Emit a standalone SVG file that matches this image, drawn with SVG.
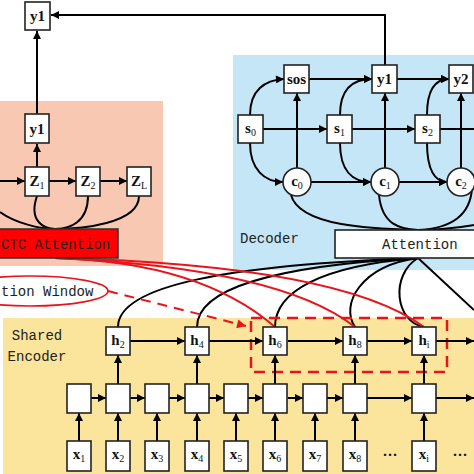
<svg xmlns="http://www.w3.org/2000/svg" width="474" height="474" viewBox="0 0 474 474">
<defs>
<marker id="ah" viewBox="0 0 10 10" refX="10" refY="5" markerWidth="9" markerHeight="8" markerUnits="userSpaceOnUse" orient="auto"><path d="M0,0 L10,5 L0,10 z" fill="#000"/></marker>
<marker id="ahr" viewBox="0 0 10 10" refX="10" refY="5" markerWidth="10" markerHeight="9" markerUnits="userSpaceOnUse" orient="auto"><path d="M0,0 L10,5 L0,10 z" fill="#e8141c"/></marker>
<style>
.bx{fill:#fff;stroke:#222;stroke-width:1.6}
.lb{font-family:"Liberation Serif","DejaVu Serif",serif;font-size:15px;font-weight:bold;fill:#111;text-anchor:middle}
.sb{font-size:10px;font-weight:normal}
.mono{font-family:"Liberation Mono","DejaVu Sans Mono",monospace;font-size:14px;fill:#222}
.ln{fill:none;stroke:#000;stroke-width:2}
.ar{fill:none;stroke:#000;stroke-width:2;marker-end:url(#ah)}
.rd{fill:none;stroke:#e8141c;stroke-width:2}
</style>
</defs>
<rect width="474" height="474" fill="#fff"/>
<!-- regions -->
<rect x="0" y="101" width="163" height="165" fill="#f8c8b2"/>
<rect x="233" y="55" width="241" height="215" fill="#c4e6f6"/>
<rect x="3" y="318" width="471" height="156" fill="#fbe49b"/>

<g id="connectors">
<!-- top -->
<path class="ar" d="M385,65 L385,15 L51,15"/>
<path class="ar" d="M37,114 L37,31"/>
<path class="ar" d="M37,167 L37,144"/>
<path class="ar" d="M0,181 L25,181"/>
<path class="ar" d="M49,181 L76,181"/>
<path class="ar" d="M100,181 L127,181"/>
<path class="ln" d="M37,196 C28,222 45,229 55,229"/>
<path class="ln" d="M88,196 C88,222 70,229 55,229"/>
<path class="ln" d="M139,196 C139,224 80,229 55,229"/>
<path class="ln" d="M0,212 C15,223 40,229 55,229"/>
<!-- decoder -->
<path class="ar" d="M309,79 L372,79"/>
<path class="ar" d="M397,79 L449,79"/>
<path class="ar" d="M263,129 L327,129"/>
<path class="ar" d="M352,129 L415,129"/>
<path class="ln" d="M440,129 L474,129"/>
<path class="ar" d="M311,182 L371,182"/>
<path class="ar" d="M399,182 L447,182"/>
<path class="ar" d="M297,168 L297,93"/>
<path class="ar" d="M385,168 L385,93"/>
<path class="ar" d="M461,168 L461,93"/>
<path class="ar" d="M250,115 C250,90 265,80 284,79"/>
<path class="ar" d="M250,143 C250,170 265,182 283,182"/>
<path class="ar" d="M340,115 C340,90 352,79 372,79"/>
<path class="ar" d="M340,143 C340,170 352,182 371,182"/>
<path class="ar" d="M427,115 C427,90 435,79 449,79"/>
<path class="ar" d="M427,143 C427,170 435,182 447,182"/>
<path class="ln" d="M291,195 C300,228 380,229 418,230"/>
<path class="ln" d="M379,195 C382,225 400,229 418,230"/>
<path class="ln" d="M472,188 C470,222 440,229 418,230"/>
<path class="ln" d="M418,230 C445,230 462,227 474,225"/>
<!-- attention to encoder -->
<path class="ln" d="M118,327 C118,285 230,265 418,258"/>
<path class="ln" d="M197,327 C197,290 270,266 418,258"/>
<path class="ln" d="M275,327 C275,292 320,266 418,258"/>
<path class="ln" d="M355,327 C340,305 360,266 418,258"/>
<path class="ln" d="M424,327 C395,322 390,275 418,258"/>
<path class="ln" d="M418,258 L474,310"/>
<!-- CTC red -->
<path class="rd" d="M55,258 Q200,262 275,327"/>
<path class="rd" d="M55,258 Q280,268 355,327"/>
<path class="rd" d="M55,258 Q340,265 424,327"/>
<path fill="none" stroke="#e8141c" stroke-width="2" stroke-dasharray="10,7" d="M108,291 L246,326" marker-end="url(#ahr)"/>
<rect x="251" y="318" width="196" height="54" fill="none" stroke="#e8141c" stroke-width="2.5" stroke-dasharray="11,7"/>
<!-- encoder -->
<path class="ar" d="M130,341 L185,341"/>
<path class="ar" d="M209,341 L263,341"/>
<path class="ar" d="M288,341 L343,341"/>
<path class="ar" d="M367,341 L412,341"/>
<path class="ar" d="M436,341 L474,341"/>
<path class="ar" d="M91,398 L106,398"/>
<path class="ar" d="M130,398 L145,398"/>
<path class="ar" d="M169,398 L185,398"/>
<path class="ar" d="M209,398 L224,398"/>
<path class="ar" d="M248,398 L263,398"/>
<path class="ar" d="M288,398 L303,398"/>
<path class="ar" d="M327,398 L343,398"/>
<path class="ar" d="M367,398 L412,398"/>
<path class="ar" d="M436,398 L474,398"/>
<path class="ar" d="M118,384 L118,355"/>
<path class="ar" d="M197,384 L197,355"/>
<path class="ar" d="M275,384 L275,355"/>
<path class="ar" d="M355,384 L355,355"/>
<path class="ar" d="M424,384 L424,355"/>
<path class="ar" d="M79,441 L79,413"/>
<path class="ar" d="M118,441 L118,413"/>
<path class="ar" d="M157,441 L157,413"/>
<path class="ar" d="M197,441 L197,413"/>
<path class="ar" d="M236,441 L236,413"/>
<path class="ar" d="M275,441 L275,413"/>
<path class="ar" d="M315,441 L315,413"/>
<path class="ar" d="M355,441 L355,413"/>
<path class="ar" d="M424,441 L424,413"/>
</g>

<!-- CTC side -->
<g id="y1-top"><rect class="bx" x="25" y="2" width="25" height="28"/><text class="lb" x="37.5" y="21">y1</text></g>
<g id="ctc-y1"><rect class="bx" x="25" y="114" width="24" height="29"/><text class="lb" x="37" y="134">y1</text></g>
<g id="z1"><rect class="bx" x="25" y="167" width="24" height="29"/><text class="lb" x="37" y="186">Z<tspan class="sb" dy="3">1</tspan></text></g>
<g id="z2"><rect class="bx" x="76" y="167" width="24" height="29"/><text class="lb" x="88" y="186">Z<tspan class="sb" dy="3">2</tspan></text></g>
<g id="zl"><rect class="bx" x="127" y="167" width="24" height="29"/><text class="lb" x="139" y="186">Z<tspan class="sb" dy="3">L</tspan></text></g>
<g id="ctc-attention"><rect x="-5" y="229" width="123" height="29" fill="#ff0000" stroke="#333" stroke-width="1.6"/><text class="mono" x="1" y="249" font-size="13.5">CTC Attention</text></g>
<g id="attention-window"><ellipse cx="30" cy="291" rx="78" ry="15" fill="#fff" stroke="#e8141c" stroke-width="1.6"/><text class="mono" x="1" y="296" font-size="13.5">tion Window</text></g>

<!-- decoder -->
<text class="mono" x="240" y="243">Decoder</text>
<g id="attention"><rect class="bx" x="335" y="230" width="145" height="28"/><text class="mono" x="382" y="249">Attention</text></g>
<g id="sos"><rect class="bx" x="284" y="65" width="25" height="28"/><text class="lb" x="296.5" y="84">sos</text></g>
<g id="y1-dec"><rect class="bx" x="372" y="65" width="25" height="28"/><text class="lb" x="384.5" y="84">y1</text></g>
<g id="y2"><rect class="bx" x="449" y="65" width="24" height="28"/><text class="lb" x="461" y="84">y2</text></g>
<g id="s0"><rect class="bx" x="238" y="115" width="25" height="28"/><text class="lb" x="250.5" y="133">s<tspan class="sb" dy="3">0</tspan></text></g>
<g id="s1"><rect class="bx" x="327" y="115" width="25" height="28"/><text class="lb" x="339.5" y="133">s<tspan class="sb" dy="3">1</tspan></text></g>
<g id="s2"><rect class="bx" x="415" y="115" width="25" height="28"/><text class="lb" x="427.5" y="133">s<tspan class="sb" dy="3">2</tspan></text></g>
<g id="c0"><circle class="bx" cx="297" cy="182" r="14"/><text class="lb" x="297" y="186">c<tspan class="sb" dy="3">0</tspan></text></g>
<g id="c1"><circle class="bx" cx="385" cy="182" r="14"/><text class="lb" x="385" y="186">c<tspan class="sb" dy="3">1</tspan></text></g>
<g id="c2"><circle class="bx" cx="461" cy="182" r="14"/><text class="lb" x="461" y="186">c<tspan class="sb" dy="3">2</tspan></text></g>

<!-- encoder -->
<text class="mono" x="37" y="340" text-anchor="middle">Shared</text>
<text class="mono" x="37" y="361" text-anchor="middle">Encoder</text>
<g id="h2"><rect class="bx" x="106" y="327" width="24" height="28"/><text class="lb" x="118" y="345">h<tspan class="sb" dy="3">2</tspan></text></g>
<g id="h4"><rect class="bx" x="185" y="327" width="24" height="28"/><text class="lb" x="197" y="345">h<tspan class="sb" dy="3">4</tspan></text></g>
<g id="h6"><rect class="bx" x="263" y="327" width="24" height="28"/><text class="lb" x="275" y="345">h<tspan class="sb" dy="3">6</tspan></text></g>
<g id="h8"><rect class="bx" x="343" y="327" width="24" height="28"/><text class="lb" x="355" y="345">h<tspan class="sb" dy="3">8</tspan></text></g>
<g id="hi"><rect class="bx" x="412" y="327" width="24" height="28"/><text class="lb" x="424" y="345">h<tspan class="sb" dy="3">i</tspan></text></g>
<g id="e1"><rect class="bx" x="67" y="384" width="24" height="29"/></g>
<g id="e2"><rect class="bx" x="106" y="384" width="24" height="29"/></g>
<g id="e3"><rect class="bx" x="145" y="384" width="24" height="29"/></g>
<g id="e4"><rect class="bx" x="185" y="384" width="24" height="29"/></g>
<g id="e5"><rect class="bx" x="224" y="384" width="24" height="29"/></g>
<g id="e6"><rect class="bx" x="263" y="384" width="24" height="29"/></g>
<g id="e7"><rect class="bx" x="303" y="384" width="24" height="29"/></g>
<g id="e8"><rect class="bx" x="343" y="384" width="24" height="29"/></g>
<g id="ei"><rect class="bx" x="412" y="384" width="24" height="29"/></g>
<g id="x1"><rect class="bx" x="67" y="441" width="24" height="30"/><text class="lb" x="79" y="459">x<tspan class="sb" dy="3">1</tspan></text></g>
<g id="x2"><rect class="bx" x="106" y="441" width="24" height="30"/><text class="lb" x="118" y="459">x<tspan class="sb" dy="3">2</tspan></text></g>
<g id="x3"><rect class="bx" x="145" y="441" width="24" height="30"/><text class="lb" x="157" y="459">x<tspan class="sb" dy="3">3</tspan></text></g>
<g id="x4"><rect class="bx" x="185" y="441" width="24" height="30"/><text class="lb" x="197" y="459">x<tspan class="sb" dy="3">4</tspan></text></g>
<g id="x5"><rect class="bx" x="224" y="441" width="24" height="30"/><text class="lb" x="236" y="459">x<tspan class="sb" dy="3">5</tspan></text></g>
<g id="x6"><rect class="bx" x="263" y="441" width="24" height="30"/><text class="lb" x="275" y="459">x<tspan class="sb" dy="3">6</tspan></text></g>
<g id="x7"><rect class="bx" x="303" y="441" width="24" height="30"/><text class="lb" x="315" y="459">x<tspan class="sb" dy="3">7</tspan></text></g>
<g id="x8"><rect class="bx" x="343" y="441" width="24" height="30"/><text class="lb" x="355" y="459">x<tspan class="sb" dy="3">8</tspan></text></g>
<g id="xi"><rect class="bx" x="412" y="441" width="24" height="30"/><text class="lb" x="424" y="459">x<tspan class="sb" dy="3">i</tspan></text></g>
<text class="lb" x="390" y="460">···</text>
<text class="lb" x="460" y="460">···</text>
</svg>
